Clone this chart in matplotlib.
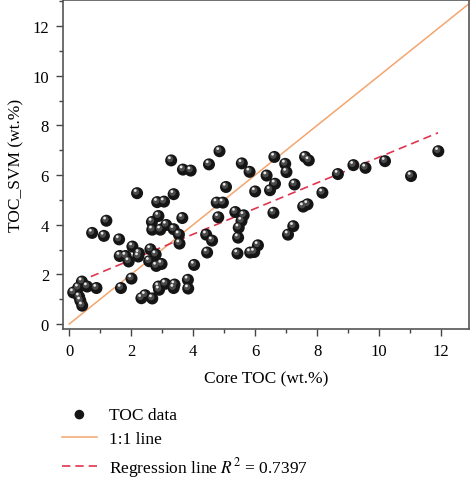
import numpy as np
import matplotlib.pyplot as plt
import matplotlib.transforms as mtransforms
from matplotlib.ticker import MultipleLocator

plt.rcParams['font.family'] = ['Liberation Serif', 'DejaVu Serif']
plt.rcParams['mathtext.fontset'] = 'stix'

# TOC values (core vs SVM prediction)
core_toc = [11.91, 4.85, 6.62, 3.29, 5.57, 4.51, 6.97, 7.61, 7.73, 3.67,
            3.92, 5.82, 7.01, 9.17, 9.56, 10.19, 11.03, 8.67, 6.37, 6.64,
            6.48, 7.27, 5.06, 6.00, 8.17, 2.19, 3.37, 2.84, 3.06, 4.76,
            4.96, 7.55, 7.69, 1.20, 2.88, 2.67, 3.13, 3.65, 4.81, 5.36,
            5.63, 5.56, 5.47, 6.59, 7.23, 7.06, 0.74, 1.12, 1.61, 2.68,
            2.94, 3.37, 3.54, 3.56, 4.42, 4.61, 5.45, 6.09, 5.97, 5.84,
            5.43, 4.45, 4.03, 2.04, 2.25, 1.63, 1.82, 1.92, 2.23, 2.62,
            2.79, 2.58, 2.81, 2.98, 2.01, 1.67, 2.88, 2.90, 3.10, 3.40,
            3.37, 3.83, 3.84, 2.33, 2.45, 2.68, 0.41, 0.13, 0.29, 0.58,
            0.88, 0.32, 0.42, 0.36]
svm_toc = [6.96, 6.96, 6.73, 6.59, 6.47, 6.43, 6.45, 6.73, 6.59, 6.22,
           6.18, 6.13, 6.12, 6.40, 6.29, 6.56, 5.96, 6.04, 5.98, 5.65,
           5.39, 5.62, 5.52, 5.34, 5.29, 5.27, 5.23, 4.91, 4.93, 4.89,
           4.89, 4.73, 4.82, 4.16, 4.35, 4.11, 3.99, 4.27, 4.30, 4.51,
           4.38, 4.15, 3.88, 4.48, 3.94, 3.60, 3.67, 3.55, 3.41, 3.80,
           3.80, 3.82, 3.60, 3.24, 3.60, 3.36, 3.48, 3.17, 2.90, 2.88,
           2.84, 2.88, 2.38, 3.12, 2.85, 2.74, 2.74, 2.52, 2.72, 3.01,
           2.80, 2.53, 2.34, 2.42, 1.83, 1.45, 1.51, 1.38, 1.62, 1.59,
           1.45, 1.78, 1.43, 1.04, 1.16, 1.03, 1.71, 1.27, 1.46, 1.51,
           1.45, 1.10, 0.74, 0.94]

one_to_one = [0, 13]
reg_x = [0.3, 11.9]
reg_slope = 0.517
reg_intercept = 1.55
r2 = 0.7397

fig = plt.figure(figsize=(4.74, 4.89), dpi=100)
ax = fig.add_axes([63 / 474, 1 - 330 / 489, 406 / 474, 329 / 489])

ax.plot(one_to_one, one_to_one, color='#f4a56e', lw=1.1, label='1:1 line', zorder=2)
reg_y = [reg_slope * v + reg_intercept for v in reg_x]
ax.plot(reg_x, reg_y, color='#e0354f', lw=1.2, ls=(0, (5, 3)),
        label='Regression line $R^2$ = 0.7397', zorder=2)

# shaded "sphere" markers: dark base + grey shading + small highlight
sc = ax.scatter(core_toc, svm_toc, s=75, color='#151515', edgecolors='none',
                label='TOC data', zorder=3)
shift1 = mtransforms.offset_copy(ax.transData, fig=fig, x=-0.8, y=1.0, units='points')
ax.scatter(core_toc, svm_toc, s=22, color='#4a4a4a', edgecolors='none',
           transform=shift1, zorder=4)
shift2 = mtransforms.offset_copy(ax.transData, fig=fig, x=-1.3, y=1.9, units='points')
ax.scatter(core_toc, svm_toc, s=4, color='#e8e8e8', edgecolors='none',
           transform=shift2, zorder=5)

ax.set_xlim(-0.2, 12.9)
ax.set_ylim(-0.2, 13.05)
ax.xaxis.set_major_locator(MultipleLocator(2))
ax.xaxis.set_minor_locator(MultipleLocator(1))
ax.yaxis.set_major_locator(MultipleLocator(2))
ax.yaxis.set_minor_locator(MultipleLocator(1))
ax.tick_params(which='major', direction='out', length=5, width=1, color='#444444',
               labelsize=12, pad=5)
ax.tick_params(which='minor', direction='out', length=3, width=1, color='#444444')
for sp in ax.spines.values():
    sp.set_color('#555555')
    sp.set_linewidth(1.2)

ax.set_xlabel('Core TOC (wt.%)', fontsize=12.5, labelpad=8)
ax.set_ylabel('TOC_SVM (wt.%)', fontsize=12.5, labelpad=6)

handles, labels = ax.get_legend_handles_labels()
order = [2, 0, 1]
fig.legend([handles[i] for i in order], [labels[i] for i in order],
           loc='upper left', bbox_to_anchor=(62 / 474, 1 - 408 / 489),
           frameon=False, fontsize=12.5, handlelength=2.0, handletextpad=0.7,
           labelspacing=0.45, borderpad=0, borderaxespad=0, markerscale=0.8)

fig.savefig('out.png', dpi=100)
